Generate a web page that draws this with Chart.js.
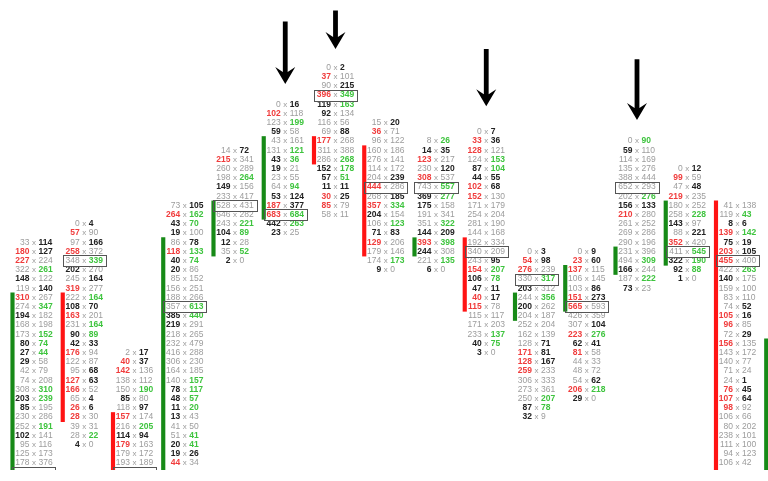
<!DOCTYPE html>
<html>
<head>
<meta charset="utf-8">
<script src="https://cdn.jsdelivr.net/npm/chart.js@4.4.1/dist/chart.umd.min.js"></script>
<style>
  html, body { margin: 0; padding: 0; background: #fff; }
</style>
</head>
<body>
<canvas id="myChart" width="768" height="481"></canvas>
<script>
// Footprint bars. Prices are in ticks, 100 = highest row on screen.
const highs  = [81, 83, 69, 85, 91, 96, 100, 94, 92, 93, 80, 80, 92, 89, 85, null];
const opens  = [56, 75, 62, 56, 80, 84, 92, 91, 80, 81, 73, 74, 78, 79, 85, 56];
const closes = [75, 62, 56, 81, 85, 92, 90, 80, 81, 74, 75, 78, 80, 85, 56, 70];
const pocs   = [56, 79, 56, 74, 85, 84, 97, 87, 87, 80, 77, 74, 87, 80, 79, null];

// bid volume per row, from the high down
const bids = [
    [33, 180, 227, 322, 148, 119, 310, 274, 194, 168, 173, 80, 27, 29, 42, 74, 308, 203, 85, 230, 252, 102, 95, 125, 178],
    [0, 57, 97, 258, 348, 202, 245, 319, 222, 108, 163, 231, 90, 42, 176, 122, 95, 127, 166, 65, 26, 28, 39, 28, 4],
    [2, 40, 142, 138, 150, 85, 118, 157, 216, 114, 179, 179, 193],
    [73, 264, 43, 19, 86, 118, 40, 20, 85, 156, 188, 357, 385, 219, 218, 232, 416, 306, 164, 140, 78, 48, 11, 13, 41, 51, 20, 19, 44],
    [14, 215, 260, 198, 149, 233, 528, 646, 243, 104, 12, 35, 2],
    [0, 102, 123, 59, 43, 131, 43, 19, 23, 64, 53, 187, 683, 442, 23],
    [0, 37, 90, 396, 119, 92, 116, 69, 177, 311, 286, 152, 57, 11, 30, 85, 58],
    [15, 36, 96, 160, 276, 114, 204, 444, 268, 357, 204, 106, 71, 129, 179, 174, 9],
    [8, 14, 123, 230, 308, 743, 369, 175, 191, 351, 144, 393, 244, 221, 6],
    [0, 33, 128, 124, 87, 44, 102, 152, 171, 254, 281, 144, 192, 340, 243, 154, 106, 47, 40, 115, 115, 171, 233, 40, 3],
    [0, 54, 276, 330, 203, 244, 200, 204, 252, 162, 128, 171, 128, 259, 306, 273, 250, 87, 32],
    [0, 23, 137, 106, 103, 151, 565, 426, 307, 223, 62, 81, 44, 48, 54, 206, 29],
    [0, 59, 114, 135, 388, 652, 202, 156, 210, 261, 269, 290, 231, 494, 166, 187, 73],
    [0, 99, 47, 219, 180, 258, 143, 88, 352, 411, 322, 92, 1],
    [41, 119, 8, 139, 75, 203, 455, 422, 140, 159, 83, 74, 105, 96, 72, 156, 143, 140, 71, 24, 76, 107, 98, 106, 80, 238, 111, 94, 106],
    []
];

// ask volume per row, from the high down
const asks = [
    [114, 127, 224, 261, 122, 140, 267, 347, 182, 198, 152, 74, 44, 58, 79, 208, 310, 239, 195, 286, 191, 141, 116, 173, 376],
    [4, 90, 166, 372, 339, 270, 164, 277, 164, 70, 201, 164, 89, 33, 94, 87, 68, 63, 52, 4, 6, 30, 31, 22, 0],
    [17, 37, 136, 112, 190, 80, 97, 174, 205, 94, 163, 172, 189],
    [105, 162, 70, 100, 78, 133, 74, 86, 152, 251, 266, 613, 440, 291, 265, 479, 288, 230, 185, 157, 117, 57, 20, 43, 50, 41, 41, 26, 34],
    [72, 341, 289, 264, 156, 417, 431, 282, 221, 89, 28, 52, 0],
    [16, 118, 199, 58, 161, 121, 36, 21, 55, 94, 124, 377, 684, 263, 25],
    [2, 101, 215, 349, 163, 134, 56, 88, 268, 388, 268, 178, 51, 11, 25, 79, 11],
    [20, 71, 122, 186, 141, 172, 239, 286, 185, 334, 154, 123, 83, 206, 146, 173, 0],
    [26, 35, 217, 120, 537, 557, 277, 158, 341, 322, 209, 398, 308, 135, 0],
    [7, 36, 121, 153, 104, 55, 68, 130, 179, 204, 190, 168, 334, 209, 95, 207, 78, 11, 17, 78, 117, 203, 137, 75, 0],
    [3, 98, 239, 317, 312, 356, 262, 187, 204, 139, 71, 81, 167, 233, 333, 361, 207, 78, 9],
    [9, 60, 115, 145, 86, 273, 593, 359, 104, 276, 41, 58, 33, 72, 62, 218, 0],
    [90, 110, 169, 276, 444, 293, 276, 133, 280, 252, 286, 196, 396, 309, 244, 222, 23],
    [12, 59, 48, 235, 252, 228, 97, 221, 420, 545, 190, 88, 0],
    [138, 43, 6, 142, 19, 105, 400, 263, 175, 100, 110, 52, 16, 85, 29, 135, 172, 77, 24, 1, 45, 64, 92, 66, 202, 101, 100, 123, 42],
    []
];

// marker arrows above some bars (bar index, tail price, tip price)
const arrowBars = [5, 6, 9, 12];
const arrowFrom = [105, 106.2, 102, 100.9];
const arrowTo   = [98.2, 102, 95.8, 94.3];

const RATIO = 1.5;   // diagonal imbalance
const FONT = "Arial, 'Liberation Sans', sans-serif";
const COLORS = { n: '#9c9c9c', weak: '#222222', sell: '#f03c3c', buy: '#3ec43e' };

// compare each bid with the ask one row above it
function styleColumn(b, a) {
    const bs = b.map(() => 'n');
    const as = a.map(() => 'n');
    for (let r = 1; r < b.length; r++) {
        const up = a[r - 1];
        if (b[r] > up * RATIO) { bs[r] = 'sell'; as[r - 1] = 'weak'; }
        else if (up > b[r] * RATIO) { as[r - 1] = 'buy'; bs[r] = 'weak'; }
    }
    return [bs, as];
}

function setStyle(ctx, s) {
    ctx.font = (s === 'n' ? '' : 'bold ') + '8.5px ' + FONT;
    ctx.fillStyle = COLORS[s];
}

const footprintPlugin = {
    id: 'footprint',
    afterDatasetsDraw(chart) {
        const { ctx, chartArea, scales: { x, y } } = chart;
        ctx.save();
        ctx.beginPath();
        ctx.rect(chartArea.left, chartArea.top, chartArea.right - chartArea.left, chartArea.bottom - chartArea.top);
        ctx.clip();
        ctx.textBaseline = 'middle';

        highs.forEach((hi, c) => {
            const cx = x.getPixelForValue(c);
            if (hi !== null) {
                const [bs, as] = styleColumn(bids[c], asks[c]);
                bids[c].forEach((b, r) => {
                    const py = y.getPixelForValue(hi - r);
                    setStyle(ctx, bs[r]);
                    ctx.textAlign = 'right';
                    ctx.fillText(String(b), cx - 4.5, py);
                    ctx.font = '8px ' + FONT;
                    ctx.fillStyle = '#9c9c9c';
                    ctx.textAlign = 'center';
                    ctx.fillText('x', cx, py);
                    setStyle(ctx, as[r]);
                    ctx.textAlign = 'left';
                    ctx.fillText(String(asks[c][r]), cx + 4.5, py);
                });
            }

            // point of control box
            const p = pocs[c];
            if (p !== null) {
                let bw = 14, aw = 14;
                const r = hi === null ? -1 : hi - p;
                if (r >= 0 && r < bids[c].length) {
                    ctx.font = '8.5px ' + FONT;
                    bw = ctx.measureText(String(bids[c][r])).width;
                    aw = ctx.measureText(String(asks[c][r])).width;
                }
                const py = y.getPixelForValue(p);
                const left = Math.round(cx - 4.5 - bw - 3) + 0.5;
                const right = Math.round(cx + 4.5 + aw + 3) + 0.5;
                const top = Math.round(py - 5.5) + 0.5;
                ctx.strokeStyle = '#555555';
                ctx.lineWidth = 1;
                ctx.strokeRect(left, top, right - left, 11);
            }
        });

        // arrows
        ctx.fillStyle = '#000000';
        arrowBars.forEach((c, k) => {
            const ax = x.getPixelForValue(c);
            const y0 = y.getPixelForValue(arrowFrom[k]);
            const y1 = y.getPixelForValue(arrowTo[k]);
            const headH = 17, headW = 10, shaft = 2.4;
            ctx.beginPath();
            ctx.moveTo(ax - shaft, y0);
            ctx.lineTo(ax + shaft, y0);
            ctx.lineTo(ax + shaft, y1 - headH + 5);
            ctx.lineTo(ax + headW, y1 - headH);
            ctx.lineTo(ax, y1);
            ctx.lineTo(ax - headW, y1 - headH);
            ctx.lineTo(ax - shaft, y1 - headH + 5);
            ctx.closePath();
            ctx.fill();
        });
        ctx.restore();
    }
};

// candle bodies sit just left of each footprint column
const bodies = opens.map((o, i) => ({
    x: i - 0.428,
    y: [Math.min(o, closes[i]) - 0.5, Math.max(o, closes[i]) + 0.5]
}));
const bodyColors = opens.map((o, i) => closes[i] > o ? '#178a17' : '#ff1414');

const ctx = document.getElementById('myChart').getContext('2d');
new Chart(ctx, {
    type: 'bar',
    data: {
        datasets: [{
            data: bodies,
            backgroundColor: bodyColors,
            barThickness: 3.5,
            borderWidth: 0,
            clip: 0
        }]
    },
    options: {
        responsive: false,
        animation: false,
        devicePixelRatio: 1,
        layout: { padding: { left: 0, right: 0, top: 0, bottom: 11 } },
        scales: {
            x: { type: 'linear', offset: false, min: -0.6766, max: 14.607, display: false },
            y: { type: 'linear', offset: false, min: 56.25, max: 107.337, display: false }
        },
        plugins: {
            legend: { display: false },
            tooltip: { enabled: false }
        }
    },
    plugins: [footprintPlugin]
});
</script>
</body>
</html>
